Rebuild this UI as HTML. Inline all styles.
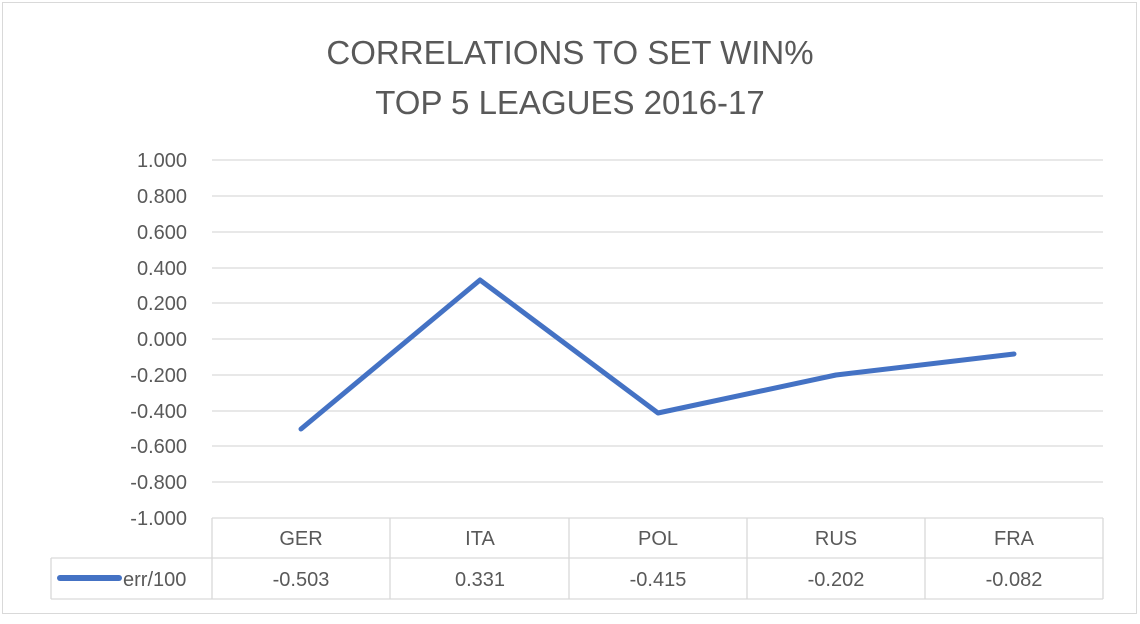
<!DOCTYPE html>
<html><head><style>
body{margin:0;background:#fff;}
svg text{font-family:"Liberation Sans",sans-serif;fill:#595959;}
</style></head><body>
<svg width="1140" height="619" xmlns="http://www.w3.org/2000/svg">
<rect x="2.5" y="2.5" width="1134" height="611" fill="#fff" stroke="#d9d9d9" stroke-width="1"/>
<text x="570" y="64" font-size="33" text-anchor="middle">CORRELATIONS TO SET WIN%</text>
<text x="570" y="114" font-size="33" text-anchor="middle">TOP 5 LEAGUES 2016-17</text>
<g stroke="#d9d9d9" stroke-width="1.3">
<line x1="212" x2="1103" y1="160" y2="160"/><line x1="212" x2="1103" y1="196" y2="196"/>
<line x1="212" x2="1103" y1="232" y2="232"/><line x1="212" x2="1103" y1="268" y2="268"/>
<line x1="212" x2="1103" y1="303" y2="303"/><line x1="212" x2="1103" y1="339" y2="339"/>
<line x1="212" x2="1103" y1="375" y2="375"/><line x1="212" x2="1103" y1="411" y2="411"/>
<line x1="212" x2="1103" y1="446" y2="446"/><line x1="212" x2="1103" y1="482" y2="482"/>
<line x1="212" x2="1103" y1="518" y2="518"/>
<line x1="51" x2="1103" y1="558" y2="558"/><line x1="51" x2="1103" y1="599" y2="599"/>
<line x1="51" x2="51" y1="558" y2="599"/>
<line x1="212" x2="212" y1="518" y2="599"/><line x1="390" x2="390" y1="518" y2="599"/>
<line x1="569" x2="569" y1="518" y2="599"/><line x1="747" x2="747" y1="518" y2="599"/>
<line x1="925" x2="925" y1="518" y2="599"/><line x1="1103" x2="1103" y1="518" y2="599"/>
</g>
<g font-size="20" text-anchor="end">
<text x="187" y="167">1.000</text><text x="187" y="203">0.800</text><text x="187" y="239">0.600</text>
<text x="187" y="275">0.400</text><text x="187" y="310">0.200</text><text x="187" y="346">0.000</text>
<text x="187" y="382">-0.200</text><text x="187" y="418">-0.400</text><text x="187" y="453">-0.600</text>
<text x="187" y="489">-0.800</text><text x="187" y="525">-1.000</text>
</g>
<g font-size="20" text-anchor="middle">
<text x="301" y="545">GER</text><text x="480" y="545">ITA</text><text x="658" y="545">POL</text>
<text x="836" y="545">RUS</text><text x="1014" y="545">FRA</text>
<text x="301" y="586">-0.503</text><text x="480" y="586">0.331</text><text x="658" y="586">-0.415</text>
<text x="836" y="586">-0.202</text><text x="1014" y="586">-0.082</text>
</g>
<line x1="60" x2="119" y1="578" y2="578" stroke="#4472c4" stroke-width="6" stroke-linecap="round"/>
<text x="123" y="586" font-size="20">err/100</text>
<polyline points="301,429 480,280 658,413 836,375 1014,354" fill="none" stroke="#4472c4" stroke-width="5" stroke-linecap="round" stroke-linejoin="round"/>
</svg>
</body></html>
